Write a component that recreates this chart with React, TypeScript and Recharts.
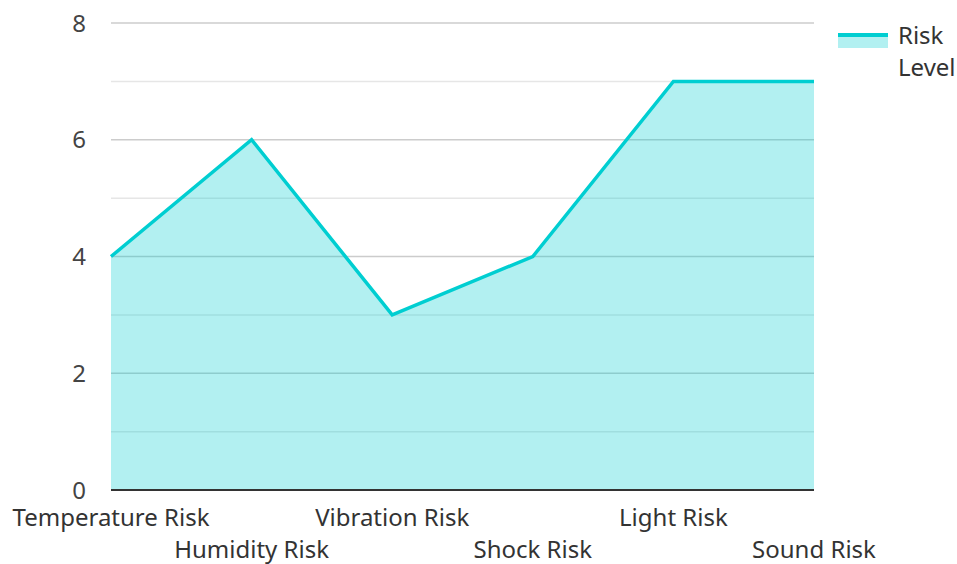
import { AreaChart, Area, XAxis, YAxis, CartesianGrid, Legend } from 'recharts';

const categories = ['Temperature Risk', 'Humidity Risk', 'Vibration Risk', 'Shock Risk', 'Light Risk', 'Sound Risk'];
const riskLevel = [4, 6, 3, 4, 7, 7];
// every unit gets a grid line, only the even ones get a label
const yTicks = [0, 1, 2, 3, 4, 5, 6, 7, 8];

const data = categories.map((name, i) => ({ name, risk: riskLevel[i] }));

const FONT = '"Noto Sans", "Open Sans", sans-serif';
const LINE = '#00CED1';

// alternate the category labels over two rows so they don't collide
const StaggeredTick = ({ x, y, payload, index }: any) => (
  <text
    x={x}
    y={y}
    dy={index % 2 === 0 ? 28 : 60}
    textAnchor="middle"
    fill="#333"
    fontSize={24}
    fontFamily={FONT}
  >
    {payload.value}
  </text>
);

const GridLine = (props: any) => {
  const { x1, x2, y1, y2, index } = props;
  if (index === 0) return <g key={props.key} />;
  return (
    <line
      key={props.key}
      x1={x1}
      x2={x2}
      y1={y1}
      y2={y2}
      stroke={index % 2 === 0 ? '#cccccc' : '#e6e6e6'}
      strokeWidth={1.5}
    />
  );
};

const RiskLegend = () => (
  <div style={{ display: 'flex', alignItems: 'flex-start', fontFamily: FONT, fontSize: 24, color: '#333' }}>
    <div style={{ width: 50, marginTop: 14, marginRight: 10, flexShrink: 0 }}>
      <div style={{ height: 4, background: LINE }} />
      <div style={{ height: 11, background: LINE, opacity: 0.3 }} />
    </div>
    <div style={{ lineHeight: '32px', width: 58 }}>Risk Level</div>
  </div>
);

export default function App() {
  return (
    <div style={{ position: 'absolute', left: 0, top: 0, background: '#fff' }}>
      <AreaChart width={957} height={564} data={data} margin={{ top: 23, right: 24, bottom: 0, left: 0 }}>
        <CartesianGrid vertical={false} horizontal={GridLine} />
        <XAxis
          dataKey="name"
          height={74}
          interval={0}
          tickLine={false}
          axisLine={{ stroke: '#333', strokeWidth: 2 }}
          tick={<StaggeredTick />}
        />
        <YAxis
          width={111}
          domain={[0, 8]}
          ticks={yTicks}
          interval={0}
          tickFormatter={(v: number) => (v % 2 === 0 ? String(v) : '')}
          axisLine={false}
          tickLine={false}
          tickSize={0}
          tickMargin={25}
          tick={{ fill: '#444', fontSize: 24, fontFamily: FONT }}
        />
        <Legend
          layout="vertical"
          align="right"
          verticalAlign="top"
          content={<RiskLegend />}
          wrapperStyle={{ position: 'absolute', left: 838, top: 19, width: 119 }}
        />
        <Area
          type="linear"
          dataKey="risk"
          name="Risk Level"
          stroke={LINE}
          strokeWidth={3.5}
          fill={LINE}
          fillOpacity={0.3}
          isAnimationActive={false}
        />
      </AreaChart>
    </div>
  );
}
